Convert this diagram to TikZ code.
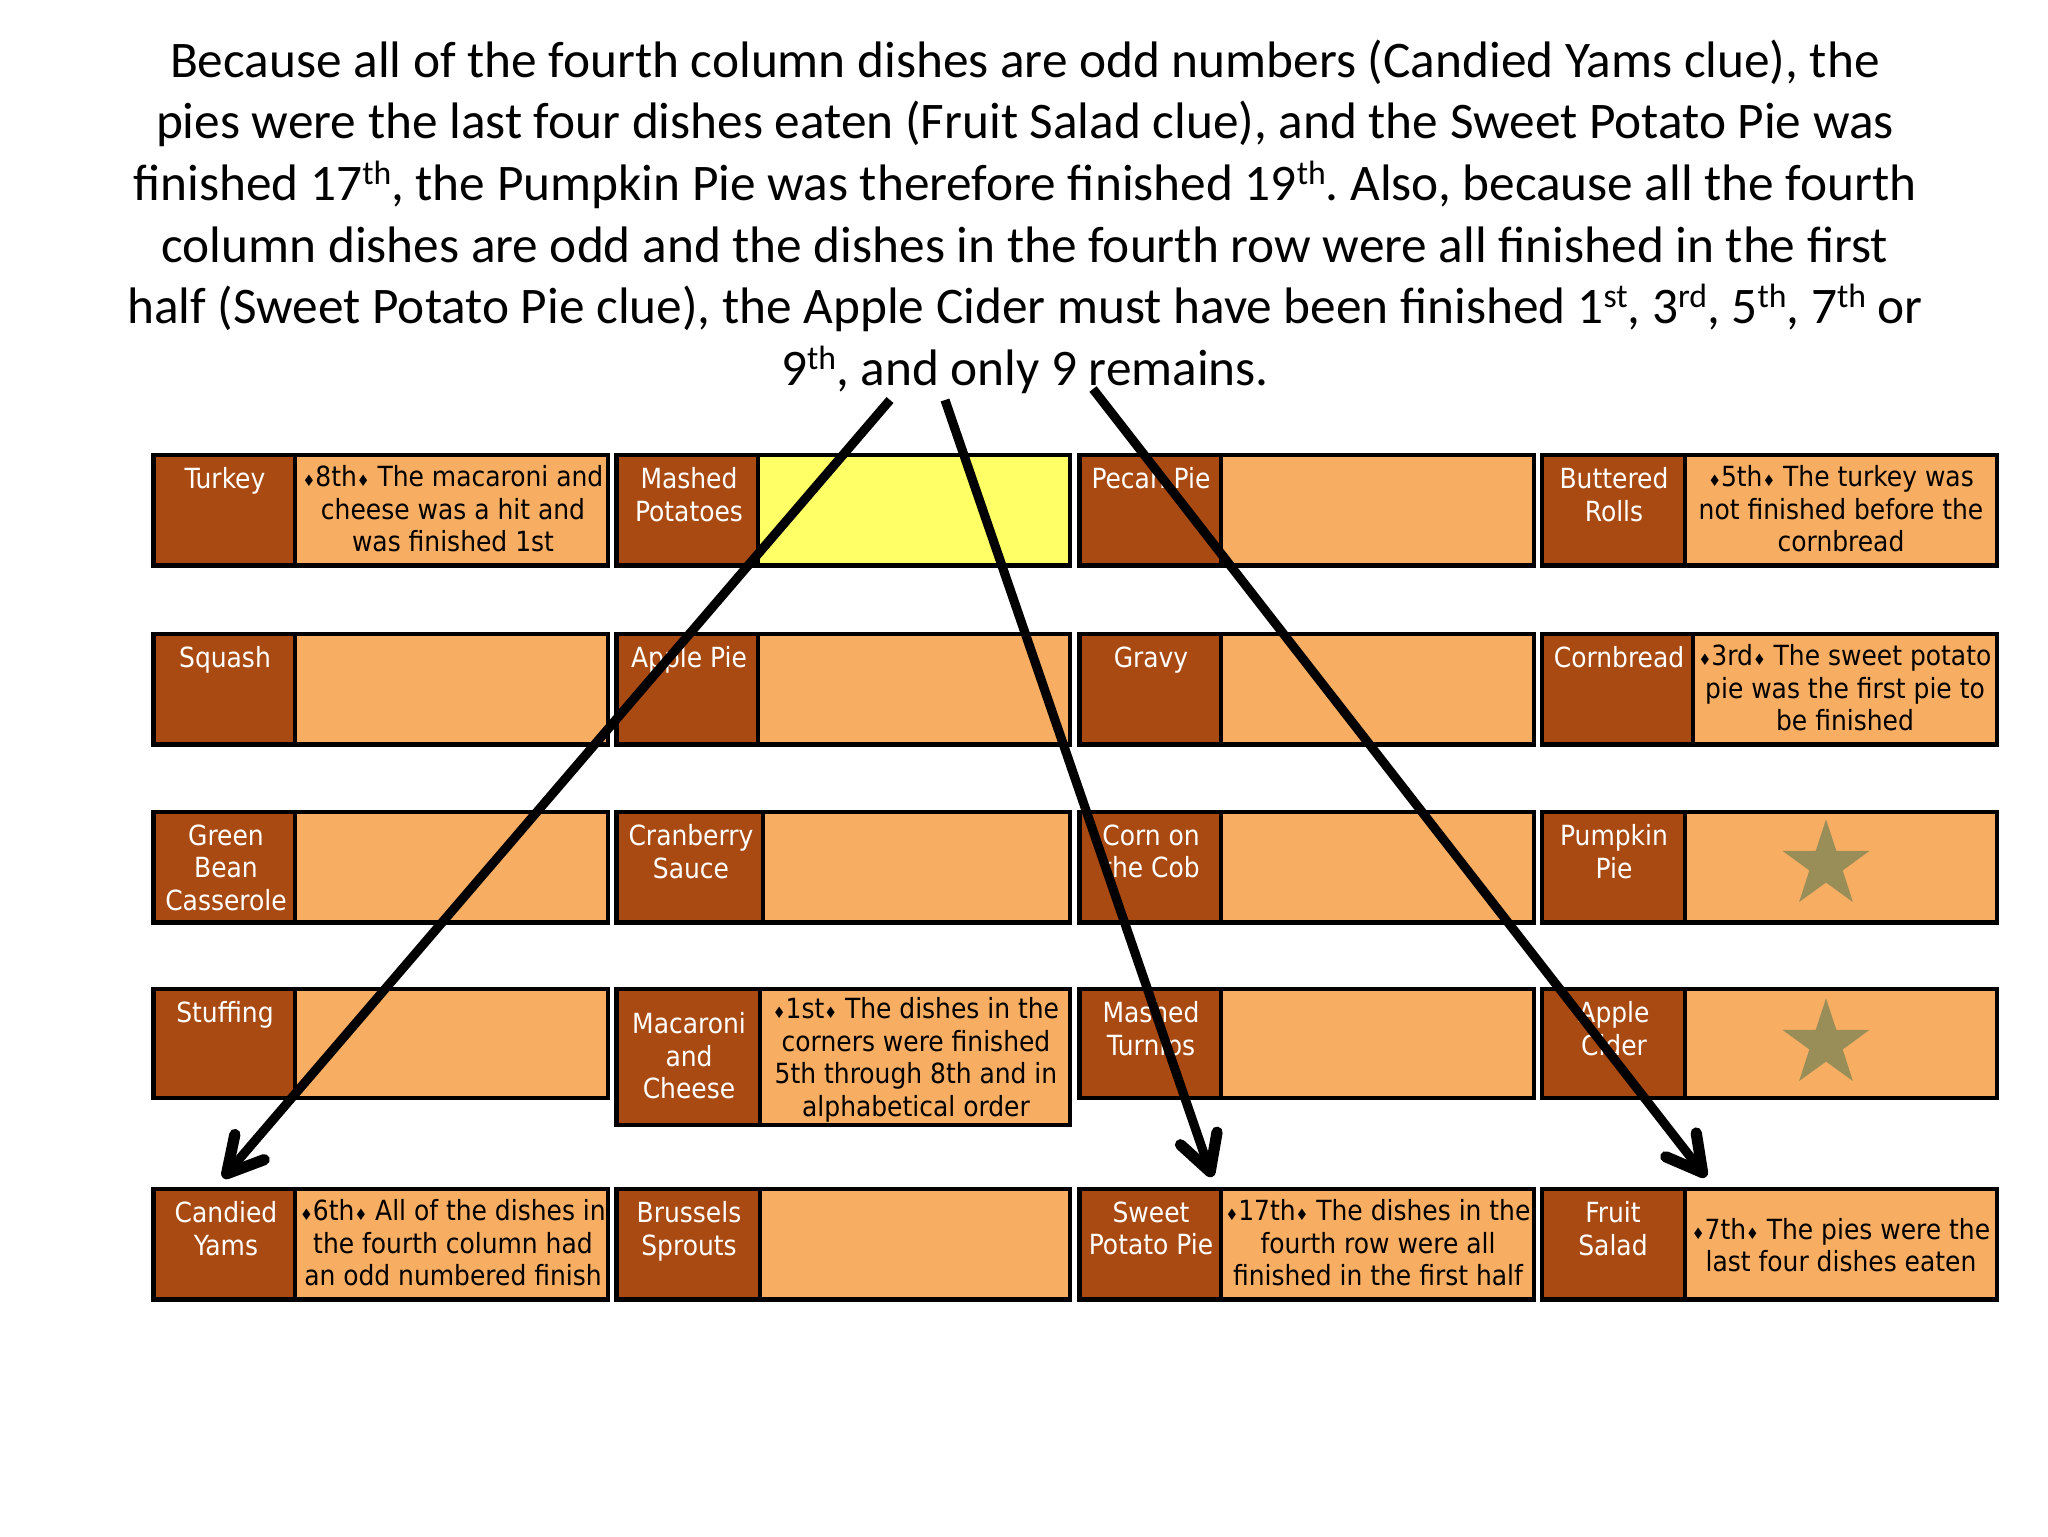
\documentclass[tikz,border=0pt]{standalone}
\usepackage{fontspec}
\usepackage{tikz}
\usetikzlibrary{positioning, shapes.geometric, arrows.meta}
\setmainfont{Carlito}
\newfontfamily\cellfont{DejaVu Sans Condensed}
\definecolor{dishbrown}{HTML}{A94A13}
\definecolor{clueorange}{HTML}{F8AE62}
\definecolor{hiyellow}{HTML}{FFFF66}
\definecolor{staroil}{HTML}{998E58}
\newcommand{\dmd}{{\fontsize{4.5}{9}\selectfont ♦}}
\newcommand{\ordi}[1]{\raisebox{4.6pt}{\fontsize{9.6}{10}\selectfont #1}}
\tikzset{
  cellline/.style={draw=black, line width=1.4pt},
  dishlabel/.style={text=white, align=center, anchor=north, inner sep=0pt,
    font=\cellfont\fontsize{7.9}{9.25}\selectfont},
  cluelabel/.style={text=black, align=center, anchor=north, inner sep=0pt,
    font=\cellfont\fontsize{7.9}{9.25}\selectfont},
  clickarrow/.style={line width=2.6pt, -{Straight Barb[length=10pt, width=11pt, line width=3.2pt, round]}},
  goldstar/.style={star, star points=5, star point ratio=2.6, fill=staroil, minimum size=26pt, inner sep=0pt}
}

\begin{document}
\begin{tikzpicture}[x=0.1mm, y=-0.1mm]
  \useasboundingbox (0,0) rectangle (2048,1536);

  % cells: left, divider, right, top, bottom
  \foreach \xa/\xb/\xc/\ya/\yb in {
    153.7/295/608/455/565.5, 616.5/758/1070/455/565.5, 1079.5/1221/1534/455/565.5, 1542/1685/1997/455/565.5,
    153.7/295/608/634/744.5, 616.5/758/1070/634/744.5, 1079.5/1221/1534/634/744.5, 1542/1693/1997/634/744.5,
    153.7/295/608/812/922.5, 616.5/763/1070/812/922.5, 1079.5/1221/1534/812/922.5, 1542/1685/1997/812/922.5,
    153.7/295/608/989/1098, 616.5/760/1070/989/1125, 1079.5/1221/1534/989/1098, 1542/1685/1997/989/1098,
    153.7/295/608/1189/1299.5, 616.5/760/1070/1189/1299.5, 1079.5/1221/1534/1189/1299.5, 1542/1685/1997/1189/1299.5} {
    \draw[cellline, fill=dishbrown] (\xa,\ya) rectangle (\xb,\yb);
    \draw[cellline, fill=clueorange] (\xb,\ya) rectangle (\xc,\yb);
  }
  \draw[cellline, fill=hiyellow] (758,455) rectangle (1070,565.5);

  \node[align=center, anchor=north, inner sep=0pt, font=\frenchspacing\fontsize{14.6}{17.55}\selectfont] (para) at (1025,39) {%
    Because all of the fourth column dishes are odd numbers (Candied Yams clue), the\\
    pies were the last four dishes eaten (Fruit Salad clue), and the Sweet Potato Pie was\\
    finished 17\ordi{th}, the Pumpkin Pie was therefore finished 19\ordi{th}. Also, because all the fourth\\
    column dishes are odd and the dishes in the fourth row were all finished in the first\\
    half (Sweet Potato Pie clue), the Apple Cider must have been finished 1\ordi{st}, 3\ordi{rd}, 5\ordi{th}, 7\ordi{th} or\\
    9\ordi{th}, and only 9 remains.};

  \node[dishlabel] (turkey) at (225,467) {Turkey};
  \node[dishlabel] (mashedpot) at (689,467) {Mashed\\Potatoes};
  \node[dishlabel] (pecan) at (1151,467) {Pecan Pie};
  \node[dishlabel] (rolls) at (1614,467) {Buttered\\Rolls};
  \node[dishlabel] (squash) at (225,646) {Squash};
  \node[dishlabel] (applepie) at (689,646) {Apple Pie};
  \node[dishlabel] (gravy) at (1151,646) {Gravy};
  \node[dishlabel] (cornbread) at (1619,646) {Cornbread};
  \node[dishlabel] (greenbean) at (226,824) {Green\\Bean\\Casserole};
  \node[dishlabel] (cranberry) at (691,824) {Cranberry\\Sauce};
  \node[dishlabel] (cob) at (1151,824) {Corn on\\the Cob};
  \node[dishlabel] (pumpkin) at (1614,824) {Pumpkin\\Pie};
  \node[dishlabel] (stuffing) at (225,1001) {Stuffing};
  \node[dishlabel, anchor=center] (macaroni) at (689,1056) {Macaroni\\and\\Cheese};
  \node[dishlabel] (turnips) at (1151,1001) {Mashed\\Turnips};
  \node[dishlabel] (cider) at (1614,1001) {Apple\\Cider};
  \node[dishlabel] (yams) at (226,1201) {Candied\\Yams};
  \node[dishlabel] (sprouts) at (689,1201) {Brussels\\Sprouts};
  \node[dishlabel] (sweetpot) at (1151,1201) {Sweet\\Potato Pie};
  \node[dishlabel] (fruit) at (1613,1201) {Fruit\\Salad};

  \node[cluelabel] (clueturkey) at (453,465) {\dmd8th\dmd{} The macaroni and\\cheese was a hit and\\was finished 1st};
  \node[cluelabel] (cluerolls) at (1841,465) {\dmd5th\dmd{} The turkey was\\not finished before the\\cornbread};
  \node[cluelabel] (cluecorn) at (1845,644) {\dmd3rd\dmd{} The sweet potato\\pie was the first pie to\\be finished};
  \node[cluelabel] (cluemac) at (916,997) {\dmd1st\dmd{} The dishes in the\\corners were finished\\5th through 8th and in\\alphabetical order};
  \node[cluelabel] (clueyams) at (453,1199) {\dmd6th\dmd{} All of the dishes in\\the fourth column had\\an odd numbered finish};
  \node[cluelabel] (cluesweet) at (1378,1199) {\dmd17th\dmd{} The dishes in the\\fourth row were all\\finished in the first half};
  \node[cluelabel, anchor=center] (cluefruit) at (1841,1245) {\dmd7th\dmd{} The pies were the\\last four dishes eaten};

  \node[goldstar] (starpumpkin) at (1826,865) {};
  \node[goldstar] (starcider) at (1826,1044) {};

  \coordinate (froma) at (890,400);
  \coordinate (fromb) at (945,400);
  \coordinate (fromc) at (1093,389);
  \coordinate (toa) at (223,1178);
  \coordinate (tob) at (1212,1177);
  \coordinate (toc) at (1706,1177);
  \draw[clickarrow] (froma)--(toa);
  \draw[clickarrow] (fromb)--(tob);
  \draw[clickarrow] (fromc)--(toc);
\end{tikzpicture}
\end{document}
